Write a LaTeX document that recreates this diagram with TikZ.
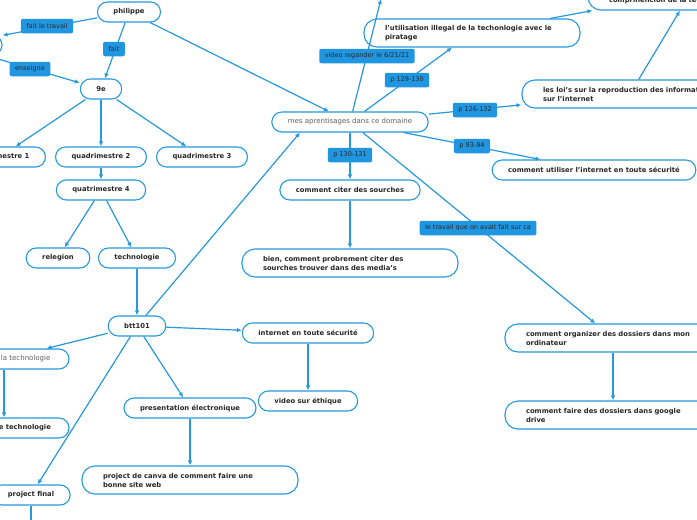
\documentclass[tikz,border=0pt]{standalone}
\usepackage{fontspec}
\setmainfont{DejaVu Sans}
\usetikzlibrary{arrows.meta}
\definecolor{mmblue}{RGB}{38,152,222}
\definecolor{lblblue}{RGB}{33,150,224}
\definecolor{txtdark}{RGB}{40,40,40}
\definecolor{txtgray}{RGB}{95,95,95}
\begin{document}
\begin{tikzpicture}[x=1pt,y=-1pt,
  topic/.style={draw=mmblue, line width=1.1pt, fill=white, rounded corners=10pt,
    minimum height=20pt, inner xsep=16pt, inner ysep=3pt,
    font=\fontsize{6.8}{9}\selectfont\bfseries, text=txtdark},
  plaintopic/.style={topic, font=\fontsize{7}{9}\selectfont, text=txtgray},
  widetopic/.style={topic, text width=174pt, align=left, inner xsep=21pt,
    minimum height=28pt, rounded corners=13pt},
  lbl/.style={fill=lblblue, rounded corners=2pt, text=txtdark,
    font=\fontsize{6.5}{8}\selectfont, inner xsep=5.5pt, inner ysep=2pt,
    minimum height=14.5pt},
  arrowlink/.style={draw=mmblue, line width=1.2pt, -{Latex[length=5pt,width=4.5pt]}},
  plainlink/.style={draw=mmblue, line width=1.2pt}
]
\clip (0,0) rectangle (697,520);
\fill[white] (0,0) rectangle (697,520);

% nodes
\node[topic, minimum width=104pt] (ln) at (-50,45) {};
\node[topic] (philippe) at (129,12) {philippe};
\node[topic] (neuf) at (101,89) {9e};
\node[topic] (quad1) at (0,157) {quadrimestre 1};
\node[topic] (quad2) at (101,157) {quadrimestre 2};
\node[topic] (quad3) at (202,157) {quadrimestre 3};
\node[topic] (quad4) at (101,190) {quatrimestre 4};
\node[topic] (relegion) at (58,258) {relegion};
\node[topic] (techno) at (137,258) {technologie};
\node[topic] (btt) at (137,326) {btt101};
\node[plaintopic, minimum width=130pt] (histo) at (4,359) {l'histoire de la technologie};
\node[topic, minimum width=130pt] (types) at (4,428) {les types de technologie};
\node[topic] (pfinal) at (31,495) {project final};
\coordinate (pfbelow) at (31,530);
\node[topic] (present) at (190,408) {presentation électronique};
\node[topic] (internet) at (308,333) {internet en toute sécurité};
\node[topic] (video) at (308,401) {video sur éthique};
\node[widetopic] (canva) at (190,480) {project de canva de comment faire une\\bonne site web};
\node[plaintopic] (mes) at (350,122) {mes aprentisages dans ce domaine};
\node[topic] (citer) at (350,190) {comment citer des sourches};
\node[widetopic] (bien) at (350,263) {bien, comment probrement citer des\\sourches trouver dans des media's};
\node[widetopic] (util) at (472,33) {l'utilisation illegal de la techonlogie avec le\\piratage};
\node[widetopic] (lois) at (630,94) {les loi's sur la reproduction des informations\\sur l'internet};
\node[topic] (usage) at (594,170) {comment utiliser l'internet en toute sécurité};
\node[widetopic] (organ) at (613,338) {comment organizer des dossiers dans mon\\ordinateur};
\node[widetopic] (gdrive) at (613,415) {comment faire des dossiers dans google\\drive};
\node[widetopic] (compr) at (696,-4) {\vphantom{l}\\comprihencion de la technologie};
\coordinate (topnode) at (381,-1);

% connectors
\draw[arrowlink] (philippe) -- (ln);
\draw[arrowlink] (philippe) -- (neuf);
\draw[arrowlink] (ln) -- (neuf);
\draw[arrowlink] (philippe) -- (mes);
\draw[arrowlink] (neuf) -- (quad1);
\draw[arrowlink] (neuf) -- (quad2);
\draw[arrowlink] (neuf) -- (quad3);
\draw[arrowlink] (quad2) -- (quad4);
\draw[arrowlink] (quad4) -- (relegion);
\draw[arrowlink] (quad4) -- (techno);
\draw[arrowlink] (techno) -- (btt);
\draw[arrowlink] (btt) -- ([xshift=-50pt]mes.south);
\draw[arrowlink] (btt) -- (histo);
\draw[arrowlink] (histo) -- (types);
\draw[arrowlink] (btt) -- (pfinal);
\draw[arrowlink] (btt) -- (present);
\draw[arrowlink] (btt) -- (internet);
\draw[arrowlink] (internet) -- (video);
\draw[arrowlink] (present) -- (canva);
\draw[plainlink] (pfinal) -- (pfbelow);
\draw[arrowlink] (mes) -- (topnode);
\draw[arrowlink] (mes) -- (util);
\draw[arrowlink] (mes) -- (lois);
\draw[arrowlink] (mes) -- (usage);
\draw[arrowlink] (mes) -- (citer);
\draw[arrowlink] (mes) -- (organ);
\draw[arrowlink] (citer) -- (bien);
\draw[arrowlink] (util) -- ([xshift=5pt]compr.south west);
\draw[arrowlink] (lois) -- ([xshift=-16pt]compr.south);
\draw[arrowlink] (organ) -- (gdrive);

% labels
\node[lbl] (l1) at (47,26) {fait le travail};
\node[lbl] (l2) at (114,49) {fait};
\node[lbl] (l3) at (30,69) {enseigne};
\node[lbl] (l4) at (367,56) {video regander le 6/21/21};
\node[lbl] (l5) at (407,80) {p 129-130};
\node[lbl] (l6) at (475,110) {p 126-132};
\node[lbl] (l7) at (472,146) {p 93-94};
\node[lbl] (l8) at (350,155) {p 130-131};
\node[lbl] (l9) at (478,228) {le travail que on avait fait sur ca};
\end{tikzpicture}
\end{document}
